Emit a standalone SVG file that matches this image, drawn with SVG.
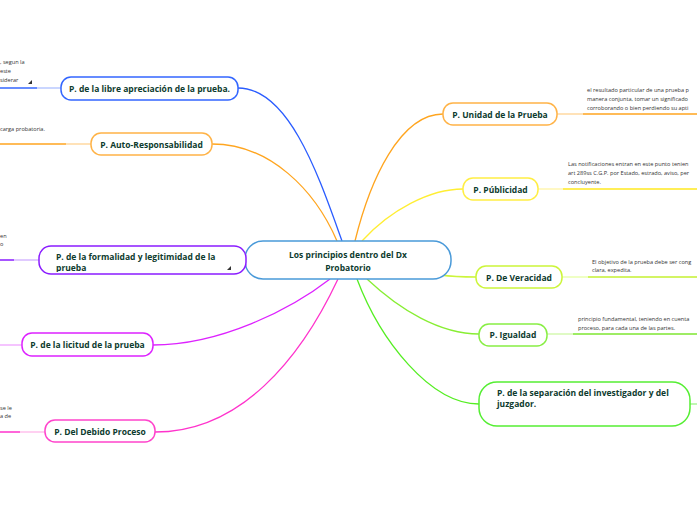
<svg xmlns="http://www.w3.org/2000/svg" width="697" height="520" viewBox="0 0 697 520">
<style>
.n{fill:#fff;stroke-width:1.5}
.t{font-family:"Open Sans","Noto Sans",sans-serif;font-weight:bold;font-size:8.5px;fill:#0d3b2e}
.s{font-family:"Open Sans","Noto Sans",sans-serif;font-size:5.6px;fill:#333}
.c{fill:none;stroke-width:1.3}
</style>
<rect width="697" height="520" fill="#fff"/>
<defs><clipPath id="cp"><rect x="39" y="246" width="207" height="26"/></clipPath></defs>
<g id="connectors">
<path class="c" stroke="#2a5cff" d="M342,241 C320,180 290,88 238,88"/>
<path class="c" stroke="#ffa51f" d="M337,241 C315,190 270,144 212,144"/>
<path class="c" stroke="#8a1cff" d="M245,260 L246,260"/>
<path class="c" stroke="#dd22ff" d="M330,279 C290,310 220,345 153,345"/>
<path class="c" stroke="#ff33cc" d="M338,279 C300,360 240,432 155,432"/>
<path class="c" stroke="#ffa51f" d="M355,241 C370,180 400,114 443,114"/>
<path class="c" stroke="#ffee33" d="M362,241 C390,210 430,189 463,189"/>
<path class="c" stroke="#ccf53a" d="M440,275 C455,277 465,277 476,277"/>
<path class="c" stroke="#88ee33" d="M367,279 C400,310 440,334 479,334"/>
<path class="c" stroke="#55ee22" d="M357,279 C380,340 430,404 479,404"/>
<g stroke-width="1.5">
<line x1="0" y1="88" x2="37" y2="88" stroke="#3366ff"/><line x1="37" y1="88" x2="61" y2="88" stroke="#b8c8ff"/>
<line x1="0" y1="144" x2="66" y2="144" stroke="#ffa51f"/><line x1="66" y1="144" x2="91" y2="144" stroke="#ffd9a0"/>
<line x1="0" y1="260" x2="14" y2="260" stroke="#8a1cff"/><line x1="14" y1="260" x2="39" y2="260" stroke="#d6b8ff"/>
<line x1="0" y1="345" x2="22" y2="345" stroke="#f2b0ff"/>
<line x1="0" y1="432" x2="20" y2="432" stroke="#ff33cc"/><line x1="20" y1="432" x2="45" y2="432" stroke="#ffc0ec"/>
<line x1="557" y1="114" x2="583" y2="114" stroke="#ffd9a0"/><line x1="583" y1="114" x2="697" y2="114" stroke="#ffa51f"/>
<line x1="538" y1="189" x2="563" y2="189" stroke="#fff6b0"/><line x1="563" y1="189" x2="697" y2="189" stroke="#ffe81f"/>
<line x1="562" y1="277" x2="588" y2="277" stroke="#eaffb0"/><line x1="588" y1="277" x2="697" y2="277" stroke="#c4f030"/>
<line x1="547" y1="334" x2="573" y2="334" stroke="#d4f8b0"/><line x1="573" y1="334" x2="697" y2="334" stroke="#7ee630"/>
<line x1="690" y1="404" x2="697" y2="404" stroke="#aaf598"/>
</g>
</g>
<g id="center"><rect class="n" x="245" y="241" width="206" height="38" rx="18" stroke="#4a9ad9"/>
<text class="t" font-size="10" x="348" y="257.5" text-anchor="middle">Los principios dentro del Dx</text>
<text class="t" font-size="10" x="348" y="270.5" text-anchor="middle">Probatorio</text></g>
<g id="n1"><rect class="n" x="61" y="77" width="177" height="23" rx="10" stroke="#3366ff"/>
<text class="t" x="149.5" y="91.5" text-anchor="middle">P. de la libre apreciación de la prueba.</text>
<text class="s" x="0" y="64">, segun la</text><text class="s" x="0" y="73">este</text><text class="s" x="0" y="82">siderar</text>
<path d="M32,80 L32,84 L28,84Z" fill="#333"/></g>
<g id="n2"><rect class="n" x="91" y="133" width="121" height="22" rx="10" stroke="#ffb347"/>
<text class="t" x="151.5" y="147.5" text-anchor="middle">P. Auto-Responsabilidad</text>
<text class="s" x="0" y="131">carga probatoria.</text></g>
<g id="n3"><rect class="n" x="39" y="246" width="207" height="28" rx="12" stroke="#8a1cff"/>
<g clip-path="url(#cp)"><text class="t" x="56" y="260">P. de la formalidad y legitimidad de la</text><text class="t" x="56" y="271">prueba</text></g>
<path d="M231,266 L231,270 L227,270Z" fill="#333"/>
<text class="s" x="0" y="238">en</text><text class="s" x="0" y="246">o</text></g>
<g id="n4"><rect class="n" x="22" y="333" width="131" height="23" rx="10" stroke="#dd22ff"/>
<text class="t" x="87.5" y="347.5" text-anchor="middle">P. de la licitud de la prueba</text></g>
<g id="n5"><rect class="n" x="45" y="420" width="110" height="22" rx="10" stroke="#ff44cc"/>
<text class="t" x="100" y="434.5" text-anchor="middle">P. Del Debido Proceso</text>
<text class="s" x="0" y="410">se le</text><text class="s" x="0" y="418">a de</text></g>
<g id="n6"><rect class="n" x="443" y="103" width="114" height="22" rx="10" stroke="#ffb347"/>
<text class="t" x="500" y="117.5" text-anchor="middle">P. Unidad de la Prueba</text>
<text class="s" x="587" y="92">el resultado particular de una prueba p</text><text class="s" x="587" y="101">manera conjunta, tomar un significado</text><text class="s" x="587" y="110">corroborando o bien perdiendo su apti</text></g>
<g id="n7"><rect class="n" x="463" y="178" width="75" height="22" rx="10" stroke="#ffee44"/>
<text class="t" x="500.5" y="192.5" text-anchor="middle">P. Públicidad</text>
<text class="s" x="568" y="166">Las notificaciones entran en este punto tenien</text><text class="s" x="568" y="175">art 289ss C.G.P. por Estado, estrado, aviso, per</text><text class="s" x="568" y="184">concluyente.</text></g>
<g id="n8"><rect class="n" x="476" y="266" width="86" height="22" rx="10" stroke="#ccf53a"/>
<text class="t" x="519" y="280.5" text-anchor="middle">P. De Veracidad</text>
<text class="s" x="592" y="264">El objetivo de la prueba debe ser cong</text><text class="s" x="592" y="272">clara, expedita.</text></g>
<g id="n9"><rect class="n" x="479" y="324" width="68" height="22" rx="10" stroke="#88ee44"/>
<text class="t" x="513" y="338" text-anchor="middle">P. Igualdad</text>
<text class="s" x="578" y="321">principio fundamental, teniendo en cuenta</text><text class="s" x="578" y="330">proceso, para cada una de las partes.</text></g>
<g id="n10"><rect class="n" x="479" y="382" width="211" height="44" rx="18" stroke="#55ee33"/>
<text class="t" x="497" y="396">P. de la separación del investigador y del</text><text class="t" x="497" y="407">juzgador.</text></g>
</svg>
